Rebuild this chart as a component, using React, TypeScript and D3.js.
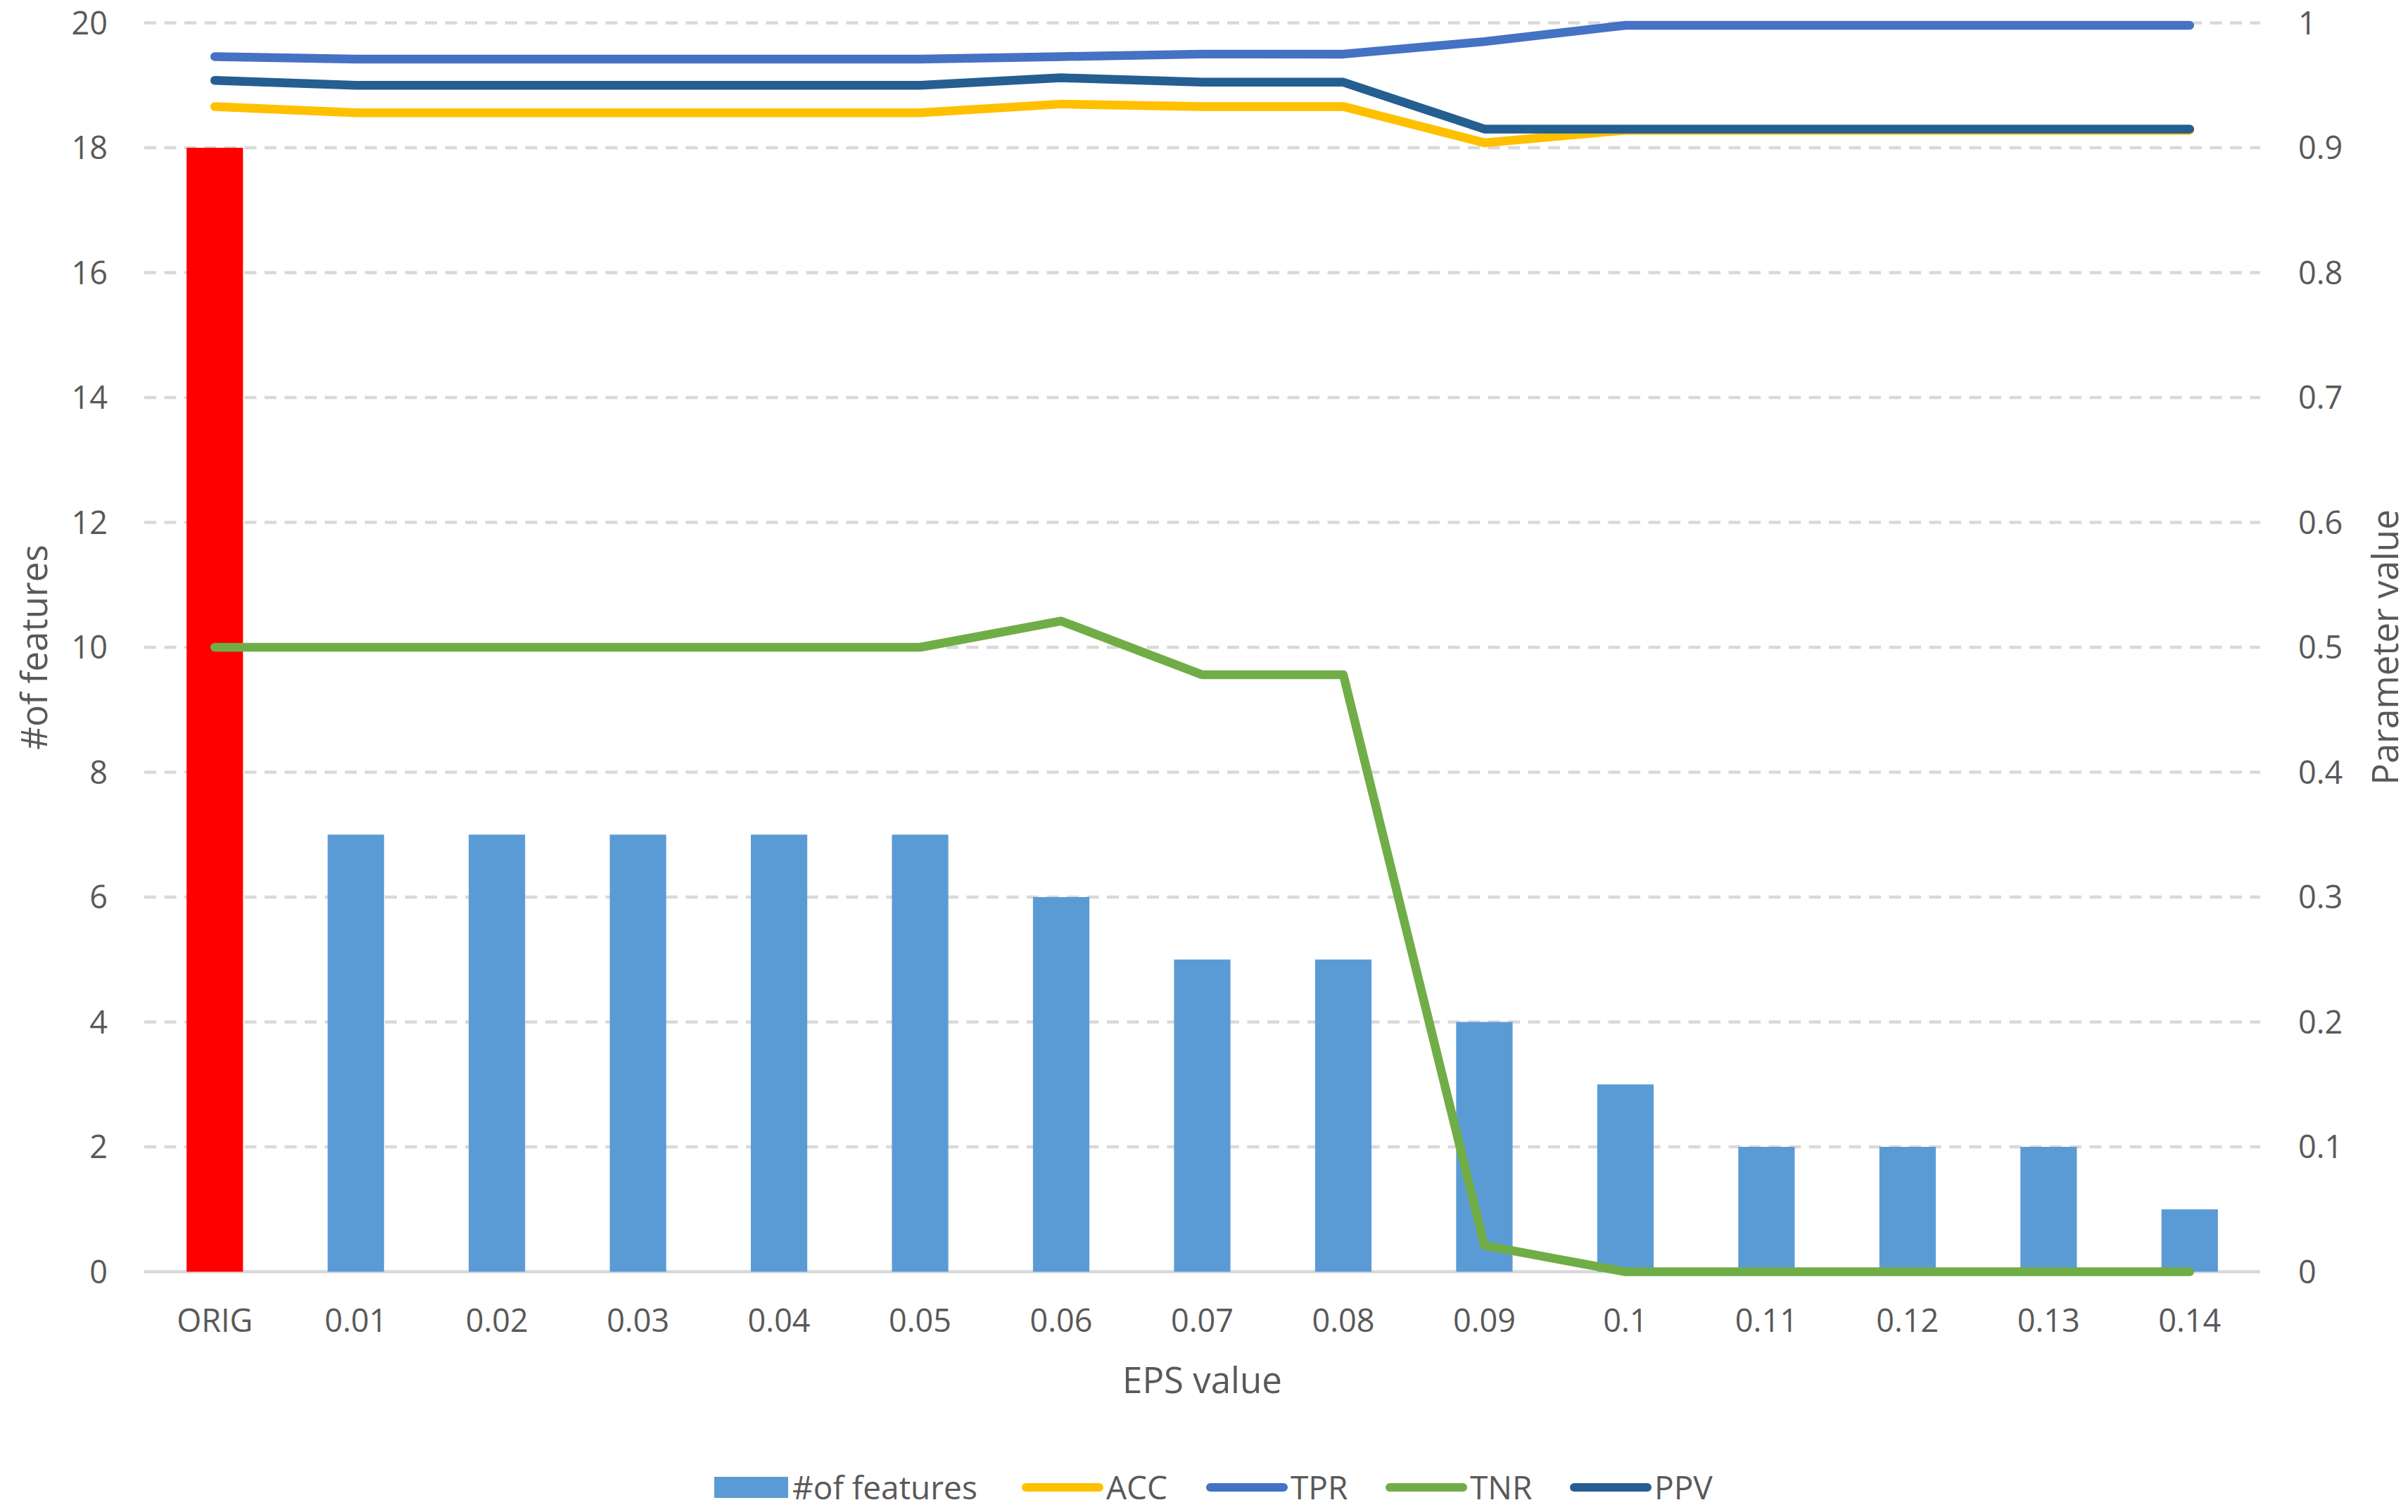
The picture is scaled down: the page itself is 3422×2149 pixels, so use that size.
import * as d3 from "d3";

// EPS sweep: number of selected features and classifier metrics
const categories = ["ORIG", "0.01", "0.02", "0.03", "0.04", "0.05", "0.06", "0.07", "0.08", "0.09", "0.1", "0.11", "0.12", "0.13", "0.14"];
const featureCounts = [18, 7, 7, 7, 7, 7, 6, 5, 5, 4, 3, 2, 2, 2, 1];
const acc = [0.933, 0.928, 0.928, 0.928, 0.928, 0.928, 0.935, 0.933, 0.933, 0.904, 0.914, 0.914, 0.914, 0.914, 0.914];
const tpr = [0.973, 0.971, 0.971, 0.971, 0.971, 0.971, 0.973, 0.975, 0.975, 0.985, 0.998, 0.998, 0.998, 0.998, 0.998];
const tnr = [0.5, 0.5, 0.5, 0.5, 0.5, 0.5, 0.521, 0.478, 0.478, 0.021, 0, 0, 0, 0, 0];
const ppv = [0.954, 0.95, 0.95, 0.95, 0.95, 0.95, 0.956, 0.9525, 0.9525, 0.915, 0.915, 0.915, 0.915, 0.915, 0.915];

const leftTicks = d3.range(0, 21, 2);
const rightTicks = d3.range(0, 11).map((d) => d / 10);

const W = 3422;
const H = 2149;
const font = "'Open Sans', 'Noto Sans', sans-serif";
const textColor = "#595959";
const gridColor = "#d9d9d9";

const lineSeries = [
  { name: "ACC", values: acc, color: "#FFC000" },
  { name: "TPR", values: tpr, color: "#4472C4" },
  { name: "TNR", values: tnr, color: "#70AD47" },
  { name: "PPV", values: ppv, color: "#255E91" },
];

export default function App() {
  const x0 = 205;
  const x1 = 3212;
  const yTop = 32.5;
  const yBottom = 1807.5;

  const x = d3.scaleBand<string>().domain(categories).range([x0, x1]).paddingInner(0.6).paddingOuter(0.3);
  const yLeft = d3.scaleLinear().domain([0, 20]).range([yBottom, yTop]);
  const yRight = d3.scaleLinear().domain([0, 1]).range([yBottom, yTop]);
  const cx = (c: string) => (x(c) ?? 0) + x.bandwidth() / 2;

  const line = d3
    .line<number>()
    .x((_, i) => cx(categories[i]))
    .y((d) => yRight(d));

  const legend = [
    { label: "#of features", x: 1015, kind: "bar", color: "#5B9BD5" },
    { label: "ACC", x: 1452, kind: "line", color: "#FFC000" },
    { label: "TPR", x: 1714, kind: "line", color: "#4472C4" },
    { label: "TNR", x: 1969, kind: "line", color: "#70AD47" },
    { label: "PPV", x: 2231, kind: "line", color: "#255E91" },
  ];
  const legendY = 2114;

  return (
    <svg width={W} height={H} style={{ position: "absolute", left: 0, top: 0, background: "#fff" }} fontFamily={font}>
      {/* gridlines */}
      {leftTicks.map((t) => (
        <line
          key={"g" + t}
          x1={x0}
          x2={x1}
          y1={yLeft(t)}
          y2={yLeft(t)}
          stroke={gridColor}
          strokeWidth={t === 0 ? 4.6 : 4.3}
          strokeDasharray={t === 0 ? undefined : "17 11.5"}
        />
      ))}

      {/* bars */}
      {categories.map((c, i) => (
        <rect
          key={"b" + c}
          x={x(c)}
          y={yLeft(featureCounts[i])}
          width={x.bandwidth()}
          height={yLeft(0) - yLeft(featureCounts[i])}
          fill={i === 0 ? "#FF0000" : "#5B9BD5"}
        />
      ))}

      {/* metric lines */}
      {lineSeries.map((s) => (
        <path
          key={s.name}
          d={line(s.values) ?? ""}
          fill="none"
          stroke={s.color}
          strokeWidth={12.5}
          strokeLinecap="round"
          strokeLinejoin="round"
        />
      ))}

      {/* left axis labels */}
      {leftTicks.map((t) => (
        <text key={"l" + t} x={153} y={yLeft(t)} dy="0.36em" textAnchor="end" fontSize={45} fill={textColor}>
          {t}
        </text>
      ))}

      {/* right axis labels */}
      {rightTicks.map((t) => (
        <text key={"r" + t} x={3266} y={yRight(t)} dy="0.36em" textAnchor="start" fontSize={45} fill={textColor}>
          {d3.format("~g")(t)}
        </text>
      ))}

      {/* category labels */}
      {categories.map((c) => (
        <text key={"c" + c} x={cx(c)} y={1893} textAnchor="middle" fontSize={45} fill={textColor}>
          {c}
        </text>
      ))}

      {/* axis titles */}
      <text x={(x0 + x1) / 2} y={1980} textAnchor="middle" fontSize={51} fill={textColor}>
        EPS value
      </text>
      <text
        transform={`translate(67,${(yTop + yBottom) / 2}) rotate(-90)`}
        textAnchor="middle"
        fontSize={51}
        fill={textColor}
      >
        #of features
      </text>
      <text
        transform={`translate(3408,${(yTop + yBottom) / 2}) rotate(-90)`}
        textAnchor="middle"
        fontSize={51}
        fill={textColor}
      >
        Parameter value
      </text>

      {/* legend */}
      {legend.map((l) => (
        <g key={"lg" + l.label}>
          {l.kind === "bar" ? (
            <rect x={l.x} y={legendY - 15} width={105} height={30} fill={l.color} />
          ) : (
            <line
              x1={l.x + 6}
              x2={l.x + 110}
              y1={legendY}
              y2={legendY}
              stroke={l.color}
              strokeWidth={12}
              strokeLinecap="round"
            />
          )}
          <text x={l.x + (l.kind === "bar" ? 111 : 120)} y={legendY} dy="0.36em" fontSize={46} fill={textColor}>
            {l.label}
          </text>
        </g>
      ))}
    </svg>
  );
}
